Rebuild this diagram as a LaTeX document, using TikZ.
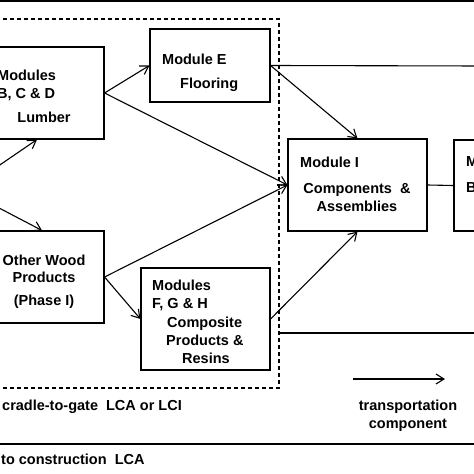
\documentclass[tikz,border=0pt]{standalone}
\usepackage{fontspec}
\setmainfont{Liberation Sans}
\usetikzlibrary{arrows.meta}
\begin{document}
\begin{tikzpicture}[x=1pt,y=-1pt,
  every node/.style={font=\fontsize{14.5}{16}\selectfont\bfseries, inner sep=0pt},
  box/.style={draw, line width=1.1pt, rectangle},
  conn/.style={line width=1.1pt},
  arr/.style={conn, -{Straight Barb[length=8pt,width=10pt,line width=1.1pt]}},
  txt/.style={anchor=base west},
  ctxt/.style={anchor=base}]
\useasboundingbox (0,0) rectangle (474,474);
\clip (0,0) rectangle (474,474);
% frame lines
\draw[line width=2.2pt] (-10,1) -- (484,1);
\draw[line width=1.3pt] (-10,444) -- (484,444);
\draw[line width=1.1pt, dash pattern=on 4pt off 3pt] (-20,19) rectangle (279,388);
% boxes
\node[box, minimum width=124pt, minimum height=92pt] (L) at (42,93) {};
\node[box, minimum width=120pt, minimum height=73pt] (E) at (210,65.5) {};
\node[box, minimum width=124pt, minimum height=92pt] (O) at (42,277) {};
\node[box, minimum width=129pt, minimum height=102pt] (C) at (205.5,319) {};
\node[box, minimum width=139pt, minimum height=92pt] (I) at (357.5,185) {};
\node[box, minimum width=106pt, minimum height=91pt] (J) at (507,185.5) {};
% texts
\node[txt] at (-3,80) {Modules};
\node[txt] at (-3,98) {B, C \& D};
\node[ctxt] at (44,122) {Lumber};
\node[txt] at (162,64) {Module E};
\node[txt] at (180,88) {Flooring};
\node[ctxt] at (44,265) {Other Wood};
\node[ctxt] at (44,282) {Products};
\node[ctxt] at (44,305) {(Phase I)};
\node[txt] at (152,290) {Modules};
\node[txt] at (152,308) {F, G \& H};
\node[txt] at (167,327) {Composite};
\node[txt] at (166,345) {Products \&};
\node[txt] at (182,363) {Resins};
\node[txt] at (300,167) {Module I};
\node[ctxt] at (357,193) {Components\ \ \&};
\node[ctxt] at (357,211) {Assemblies};
\node[txt] at (466,166) {Module J};
\node[txt] at (466,192) {Building};
\node[ctxt] at (408,410) {transportation};
\node[ctxt] at (408,428) {component};
\node[txt] at (2,410) {cradle-to-gate\ \ LCA or LCI};
\node[txt] at (1,464) {to construction\ \ LCA};
% connectors
\coordinate (s1) at (-20,178.5);
\coordinate (s2) at (-20,198);
\coordinate (r1) at (484,66);
\coordinate (d1) at (279,333);
\coordinate (r2) at (484,333);
\coordinate (t1) at (353,379);
\coordinate (t2) at (445,379);
\draw[arr] (s1) -- ([xshift=-5pt]L.south);
\draw[arr] (s2) -- (O.north);
\draw[arr] (L.east) -- (E.west);
\draw[arr] (L.east) -- (I.west);
\draw[arr] (E.east) -- (I.north);
\draw[conn] (E.east) -- (r1);
\draw[arr] (O.east) -- (I.west);
\draw[arr] (O.east) -- (C.west);
\draw[arr] (C.east) -- (I.south);
\draw[conn] (d1) -- (r2);
\draw[conn] (I.east) -- (J.west);
\draw[arr] (t1) -- (t2);
\end{tikzpicture}
\end{document}
